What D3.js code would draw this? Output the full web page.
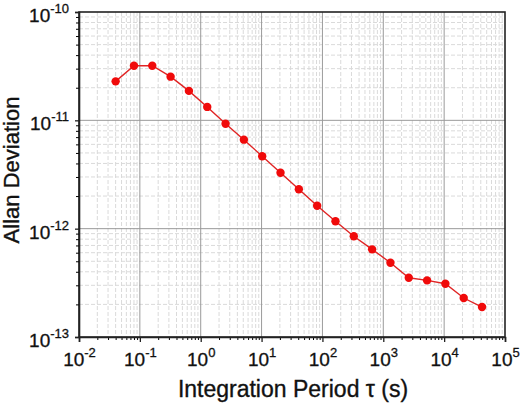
<!DOCTYPE html>
<html>
<head>
<meta charset="utf-8">
<script src="https://cdn.jsdelivr.net/npm/d3@7"></script>
<style>
  body { margin: 0; background: #fff; }
  svg { display: block; font-family: "Liberation Sans", Arial, sans-serif; }
</style>
</head>
<body>
<div id="chart"></div>
<script>
// integration period tau (s) and Allan deviation
const tau = [0.04, 0.08, 0.16, 0.32, 0.64, 1.28, 2.56, 5.12, 10.24, 20.48, 40.96,
             81.92, 163.84, 327.68, 655.36, 1310.72, 2621.44, 5242.88, 10485.76,
             20971.52, 41943.04];
const adev = [2.29e-11, 3.19e-11, 3.19e-11, 2.53e-11, 1.87e-11, 1.33e-11, 9.3e-12,
              6.63e-12, 4.66e-12, 3.28e-12, 2.31e-12, 1.63e-12, 1.17e-12, 8.5e-13,
              6.44e-13, 4.85e-13, 3.52e-13, 3.33e-13, 3.1e-13, 2.29e-13, 1.89e-13];

const xExponents = [-2, -1, 0, 1, 2, 3, 4, 5];
const yExponents = [-13, -12, -11, -10];

const xTitle = 'Integration Period \u03c4 (s)';
const yTitle = 'Allan Deviation';

const margin = { top: 12, right: 15, bottom: 71, left: 79 },
      width = 520 - margin.left - margin.right,
      height = 408 - margin.top - margin.bottom;

const svg = d3.select('#chart').append('svg')
    .attr('width', 520)
    .attr('height', 408)
    .append('g')
    .attr('transform', `translate(${margin.left},${margin.top})`);

const x = d3.scaleLog().domain([1e-2, 1e5]).range([0, width]);
const y = d3.scaleLog().domain([1e-13, 1e-10]).range([height, 0]);

const xMajor = xExponents.map(e => Math.pow(10, e));
const yMajor = yExponents.map(e => Math.pow(10, e));

function minors(exps) {
    const out = [];
    exps.slice(0, -1).forEach(e => {
        for (let k = 2; k <= 9; k++) out.push(k * Math.pow(10, e));
    });
    return out;
}
const xMinor = minors(xExponents);
const yMinor = minors(yExponents);

// minor grid (dashed)
svg.append('g').selectAll('line')
    .data(xMinor)
    .enter().append('line')
    .attr('x1', d => x(d)).attr('x2', d => x(d))
    .attr('y1', 0).attr('y2', height)
    .attr('stroke', '#dadada').attr('stroke-dasharray', '4,2');

svg.append('g').selectAll('line')
    .data(yMinor)
    .enter().append('line')
    .attr('x1', 0).attr('x2', width)
    .attr('y1', d => y(d)).attr('y2', d => y(d))
    .attr('stroke', '#dadada').attr('stroke-dasharray', '4,2');

// major grid
svg.append('g').selectAll('line')
    .data(xMajor.slice(1, -1))
    .enter().append('line')
    .attr('x1', d => x(d)).attr('x2', d => x(d))
    .attr('y1', 0).attr('y2', height)
    .attr('stroke', '#9a9a9a');

svg.append('g').selectAll('line')
    .data(yMajor.slice(1, -1))
    .enter().append('line')
    .attr('x1', 0).attr('x2', width)
    .attr('y1', d => y(d)).attr('y2', d => y(d))
    .attr('stroke', '#9a9a9a');

// frame
svg.append('rect')
    .attr('width', width).attr('height', height)
    .attr('fill', 'none').attr('stroke', '#222').attr('stroke-width', 1.6);

// minor ticks
svg.append('g')
    .attr('transform', `translate(0,${height})`)
    .call(d3.axisBottom(x).tickValues(xMinor).tickSize(3).tickFormat(''))
    .call(g => g.select('.domain').remove());
svg.append('g')
    .call(d3.axisLeft(y).tickValues(yMinor).tickSize(3).tickFormat(''))
    .call(g => g.select('.domain').remove());

// major ticks + labels as 10^n
function powerLabel(axisG) {
    axisG.selectAll('.tick text').each(function(d) {
        const t = d3.select(this);
        const e = Math.round(Math.log10(d));
        t.text(null);
        t.append('tspan').text('10');
        t.append('tspan').text(e).attr('font-size', 13).attr('dy', -9);
    });
}

const xAxis = svg.append('g')
    .attr('transform', `translate(0,${height})`)
    .call(d3.axisBottom(x).tickValues(xMajor).tickSize(5).tickPadding(11));
xAxis.select('.domain').attr('stroke', '#222').attr('stroke-width', 1.6);
xAxis.selectAll('.tick line').attr('stroke', '#222').attr('stroke-width', 1.3);
xAxis.selectAll('.tick text')
    .attr('font-size', 19).attr('fill', '#111')
    .attr('stroke', '#111').attr('stroke-width', 0.3)
    .attr('dy', '0.71em');
powerLabel(xAxis);

const yAxis = svg.append('g')
    .call(d3.axisLeft(y).tickValues(yMajor).tickSize(4).tickPadding(6));
yAxis.select('.domain').attr('stroke', '#222').attr('stroke-width', 1.6);
yAxis.selectAll('.tick line').attr('stroke', '#222').attr('stroke-width', 1.3);
yAxis.selectAll('.tick text')
    .attr('font-size', 19).attr('fill', '#111')
    .attr('stroke', '#111').attr('stroke-width', 0.3)
    .attr('dy', '0.5em');
powerLabel(yAxis);

// axis titles
svg.append('text')
    .attr('x', width / 2 + 1)
    .attr('y', height + 60)
    .attr('text-anchor', 'middle')
    .attr('font-size', 23)
    .attr('fill', '#111')
    .attr('stroke', '#111').attr('stroke-width', 0.35)
    .text(xTitle);

svg.append('text')
    .attr('transform', 'rotate(-90)')
    .attr('x', -(170 - margin.top))
    .attr('y', -margin.left + 19)
    .attr('text-anchor', 'middle')
    .attr('font-size', 22)
    .attr('fill', '#111')
    .attr('stroke', '#111').attr('stroke-width', 0.35)
    .text(yTitle);

// data line + markers
const line = d3.line()
    .x((d, i) => x(tau[i]))
    .y(d => y(d));

svg.append('path')
    .datum(adev)
    .attr('fill', 'none')
    .attr('stroke', '#e02424')
    .attr('stroke-width', 1.4)
    .attr('d', line);

svg.selectAll('.dot')
    .data(adev)
    .enter().append('circle')
    .attr('class', 'dot')
    .attr('cx', (d, i) => x(tau[i]))
    .attr('cy', d => y(d))
    .attr('r', 4.2)
    .attr('fill', '#f00a0a');
</script>
</body>
</html>
